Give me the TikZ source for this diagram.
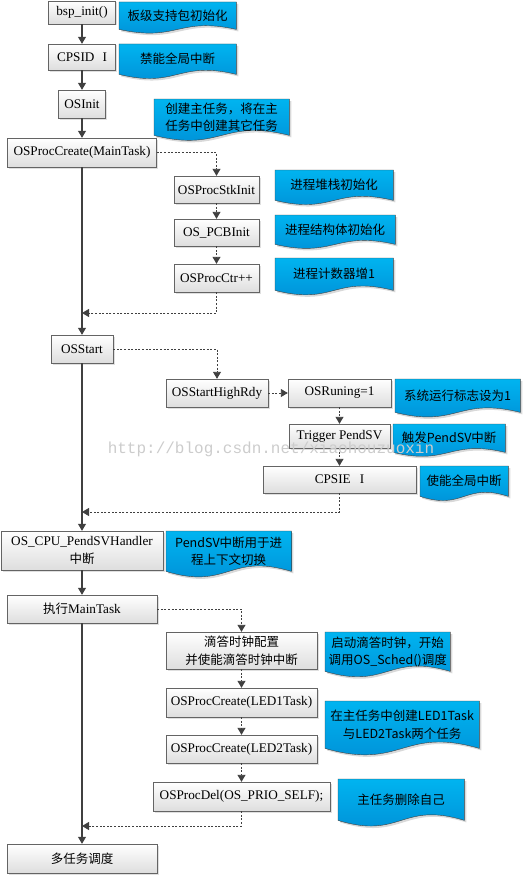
\documentclass[tikz,border=0pt]{standalone}
\usepackage{fontspec}
\setmainfont{Liberation Serif}
\setmonofont{Liberation Mono}
\newfontfamily\cjk{Noto Sans CJK SC}
\usetikzlibrary{arrows.meta,shadows,calc}
\pgfdeclarelayer{background}
\pgfsetlayers{background,main}

\definecolor{lineg}{RGB}{64,64,64}
\definecolor{boxln}{RGB}{100,100,100}
\definecolor{notetop}{RGB}{0,180,240}
\definecolor{notebot}{RGB}{0,140,212}

\begin{document}
\begin{tikzpicture}[x=1pt,y=-1pt,
    box/.style={draw=boxln,top color=white,bottom color=black!13,
      drop shadow={shadow xshift=1.5pt,shadow yshift=-1.5pt,opacity=0.25},
      inner sep=0pt,align=center,font=\fontsize{13.2}{17.5}\selectfont},
    note/.style={inner sep=0pt,anchor=north west,align=center,
      font=\cjk\fontsize{12.5}{17.5}\selectfont},
    wave/.style={draw=lineg,top color=notetop,bottom color=notebot,
      drop shadow={shadow xshift=2pt,shadow yshift=-2pt,opacity=0.3}},
    main/.style={draw=lineg,line width=1.1pt,-{Triangle[length=7pt,width=8pt]}},
    side/.style={draw=lineg,line width=0.9pt,dash pattern=on 2pt off 1.6pt,
      -{Triangle[length=7pt,width=8pt]}}]
    \useasboundingbox (0,0) rectangle (525,875);

    % left column
    \node[box,minimum width=67pt,minimum height=23pt] (init) at (82,12.5) {bsp\_init()};
    \node[box,minimum width=67pt,minimum height=26pt] (cpsid) at (82,57) {CPSID\hspace{8pt}I};
    \node[box,minimum width=47pt,minimum height=28pt] (osinit) at (82,104) {OSInit};
    \node[box,minimum width=149pt,minimum height=29pt] (create) at (82,152.5) {OSProcCreate(MainTask)};
    \node[box,minimum width=62pt,minimum height=28pt] (osstart) at (82,349) {OSStart};
    \node[box,minimum width=162pt,minimum height=39pt] (handler) at (82,550.5) {OS\_CPU\_PendSVHandler\\{\cjk\fontsize{12.5}{17.5}\selectfont 中断}};
    \node[box,minimum width=150pt,minimum height=28pt] (maintask) at (82,609) {{\cjk\fontsize{12.5}{17.5}\selectfont 执行}MainTask};
    \node[box,minimum width=150pt,minimum height=29pt] (sched) at (82,858.5) {\cjk\fontsize{12.5}{17.5}\selectfont 多任务调度};

    % branches
    \node[box,minimum width=85pt,minimum height=27pt] (stkinit) at (216.5,189.5) {OSProcStkInit};
    \node[box,minimum width=85pt,minimum height=27pt] (pcbinit) at (216.5,232.5) {OS\_PCBInit};
    \node[box,minimum width=85pt,minimum height=28pt] (ctr) at (216.5,278) {OSProcCtr++};
    \node[box,minimum width=102pt,minimum height=28pt] (highrdy) at (217,393) {OSStartHighRdy};
    \node[box,minimum width=103pt,minimum height=28pt] (runing) at (339.5,393) {OSRuning=1};
    \node[box,minimum width=101pt,minimum height=24pt] (pendsv) at (339.5,436) {Trigger PendSV};
    \node[box,minimum width=153pt,minimum height=27pt] (cpsie) at (339.5,479.5) {CPSIE\hspace{9pt}I};
    \node[box,minimum width=151pt,minimum height=37pt,font=\cjk\fontsize{12.5}{17.5}\selectfont] (tick) at (241.5,650.5) {滴答时钟配置\\并使能滴答时钟中断};
    \node[box,minimum width=151pt,minimum height=29pt] (led1) at (241.5,702.5) {OSProcCreate(LED1Task)};
    \node[box,minimum width=151pt,minimum height=28pt] (led2) at (241.5,749) {OSProcCreate(LED2Task)};
    \node[box,minimum width=177pt,minimum height=29pt] (del) at (241.5,796.5) {OSProcDel(OS\_PRIO\_SELF);};

    % notes
    \node[note,minimum width=117pt,minimum height=27pt] (n1) at (119,2) {板级支持包初始化};
    \node[note,minimum width=117pt,minimum height=30pt] (n2) at (119,44) {禁能全局中断};
    \node[note,minimum width=135pt,minimum height=36pt] (n3) at (154,99) {创建主任务，将在主\\任务中创建其它任务};
    \node[note,minimum width=118pt,minimum height=30pt] (n4) at (275,170) {进程堆栈初始化};
    \node[note,minimum width=120pt,minimum height=29pt] (n5) at (275,215) {进程结构体初始化};
    \node[note,minimum width=118pt,minimum height=32pt] (n6) at (275,258) {进程计数器增1};
    \node[note,minimum width=125pt,minimum height=33pt] (n7) at (395,379) {系统运行标志设为1};
    \node[note,minimum width=112pt,minimum height=28pt] (n8) at (393,424) {触发PendSV中断};
    \node[note,minimum width=88pt,minimum height=30pt] (n9) at (420,466) {使能全局中断};
    \node[note,minimum width=125pt,minimum height=40pt] (n10) at (166,531) {PendSV中断用于进\\程上下文切换};
    \node[note,minimum width=125pt,minimum height=39pt] (n11) at (325,632) {启动滴答时钟，开始\\调用OS\_Sched()调度};
    \node[note,minimum width=154pt,minimum height=47pt] (n12) at (325,701) {在主任务中创建LED1Task\\与LED2Task两个任务};
    \node[note,minimum width=126pt,minimum height=41pt] (n13) at (338,779) {主任务删除自己};
    \begin{pgfonlayer}{background}
      \foreach \n in {n1,n2,n3,n4,n5,n6,n7,n8,n9,n10,n11,n12,n13}
      { \draw[wave] (\n.north west) -- (\n.north east) -- (\n.south east)
          .. controls ($(\n.south)!0.47!(\n.north)$) and ($(\n.south)!-0.47!(\n.north)$)
          .. (\n.south west) -- cycle; }
    \end{pgfonlayer}

    \coordinate (back1) at (82,313);
    \coordinate (back2) at (82,512);
    \coordinate (back3) at (82,826);

    % main flow
    \draw[main] (init.south) -- (cpsid.north);
    \draw[main] (cpsid.south) -- (osinit.north);
    \draw[main] (osinit.south) -- (create.north);
    \draw[main] (create.south) -- (osstart.north);
    \draw[main] (osstart.south) -- (handler.north);
    \draw[main] (handler.south) -- (maintask.north);
    \draw[main] (maintask.south) -- (sched.north);

    % side flows
    \draw[side] (create.east) -| (stkinit.north);
    \draw[side] (stkinit.south) -- (pcbinit.north);
    \draw[side] (pcbinit.south) -- (ctr.north);
    \draw[side] (ctr.south) |- (back1);
    \draw[side] (osstart.east) -| (highrdy.north);
    \draw[side] (highrdy.east) -- (runing.west);
    \draw[side] (runing.south) -- (pendsv.north);
    \draw[side] (pendsv.south) -- (cpsie.north);
    \draw[side] (cpsie.south) |- (back2);
    \draw[side] (maintask.east) -| (tick.north);
    \draw[side] (tick.south) -- (led1.north);
    \draw[side] (led1.south) -- (led2.north);
    \draw[side] (led2.south) -- (del.north);
    \draw[side] (del.south) |- (back3);

    \node[text=black!20,font=\ttfamily\fontsize{16}{16}\selectfont] (mark) at (271,449) {http://blog.csdn.net/xiaohouzuoxin};
  \end{tikzpicture}
\end{document}
